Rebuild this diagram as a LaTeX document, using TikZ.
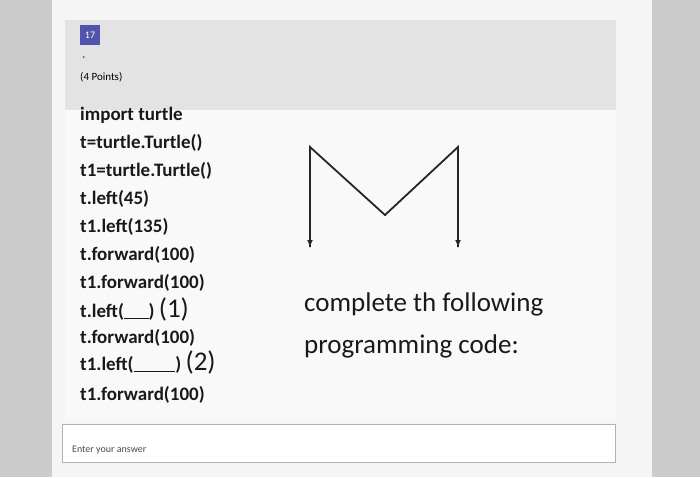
\documentclass[tikz,border=0pt]{standalone}
\usepackage{fontspec}
\usetikzlibrary{arrows.meta}
\setmainfont{Carlito}
\begin{document}
\begin{tikzpicture}[x=1pt,y=-1pt,
 code/.style={anchor=west,inner sep=0pt,font=\bfseries\fontsize{19}{20}\selectfont,text=black!90},
 big/.style={anchor=west,inner sep=0pt,font=\bfseries\fontsize{27}{28}\selectfont,text=black!90},
 arr/.style={-{Latex[length=7pt,width=6pt]},line width=1.8pt,black!85}]
\useasboundingbox (0,0) rectangle (700,477);
\fill[gray!40] (0,0) rectangle (700,477);
\fill[white!92!gray] (52,0) rectangle (652,477);
\fill[gray!22] (65,20) rectangle (616,110);
\fill[white!95!gray] (65,110) rectangle (616,420);
\node[fill=blue!35!gray,text=white,minimum size=20pt,inner sep=0pt,font=\fontsize{10}{10}\selectfont] (num) at (90,35) {17};
\node[anchor=west,inner sep=0pt,font=\fontsize{7}{7}\selectfont] (dot) at (82,59) {*};
\node[anchor=west,inner sep=0pt,font=\fontsize{11}{12}\selectfont] (pts) at (80,77) {(4 Points)};
\node[code] (l1) at (80,115) {import turtle};
\node[code] (l2) at (80,143) {t=turtle.Turtle()};
\node[code] (l3) at (80,171) {t1=turtle.Turtle()};
\node[code] (l4) at (80,199) {t.left(45)};
\node[code] (l5) at (80,227) {t1.left(135)};
\node[code] (l6) at (80,255) {t.forward(100)};
\node[code] (l7) at (80,283) {t1.forward(100)};
\node[code] (l8) at (80,309) {t.left(\underline{\hspace{1.3em}}) \fontsize{27}{28}\selectfont\mdseries(1)};
\node[code] (l9) at (80,338) {t.forward(100)};
\node[code] (l10) at (80,362) {t1.left(\underline{\hspace{2.2em}}) \fontsize{27}{28}\selectfont\mdseries(2)};
\node[code] (l11) at (80,395) {t1.forward(100)};
\coordinate (a) at (310,147);
\coordinate (b) at (385,215);
\coordinate (c) at (458,147);
\coordinate (ae) at (310,247);
\coordinate (ce) at (458,247);
\draw[line width=1.8pt,black!85,line join=miter] (ae) -- (a) -- (b) -- (c) -- (ce);
\draw[arr] (a) -- (ae);
\draw[arr] (c) -- (ce);
\node[big,font=\fontsize{27}{28}\selectfont] (t1) at (304,304) {complete th following};
\node[big,font=\fontsize{27}{28}\selectfont] (t2) at (304,346) {programming code:};
\node[draw=gray!60,fill=white,minimum width=553pt,minimum height=38pt,anchor=north west,inner sep=0pt] (box) at (62,424) {};
\node[anchor=west,inner sep=0pt,font=\fontsize{10}{10}\selectfont,text=black!70] (hint) at (72,450) {Enter your answer};
\end{tikzpicture}
\end{document}
